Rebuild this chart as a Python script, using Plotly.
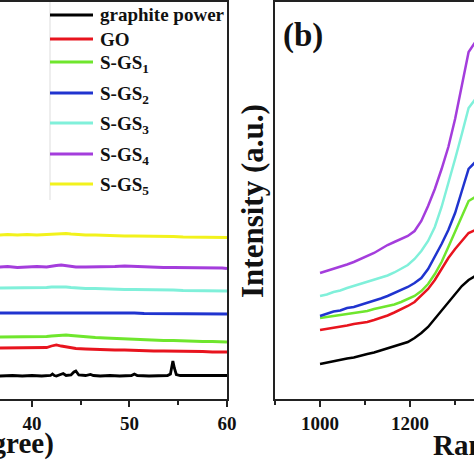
import plotly.graph_objects as go

# ---------------- data ----------------
series_names = ["graphite power", "GO", "S-GS<sub>1</sub>", "S-GS<sub>2</sub>",
                "S-GS<sub>3</sub>", "S-GS<sub>4</sub>", "S-GS<sub>5</sub>"]
series_colors = ["#000000", "#e8141e", "#6fe62d", "#2034cf", "#80f0da", "#a43ddc", "#f2f21c"]

# XRD (panel a), arbitrary offset intensities
xrd_x = [36.7, 37.5, 38.5, 39.5, 40.5, 41.5, 42.0, 42.5, 43.0, 43.5, 44.0, 44.5, 45.5, 46.5,
         47.5, 48.5, 49.5, 50.5, 51.5, 52.5, 53.5, 54.5, 55.5, 56.5, 57.5, 58.5, 59.5, 60.0]
xrd_go = [51, 51, 51.5, 51, 51, 51.5, 53, 54, 53, 52, 51, 50.5, 50, 49.5, 49.5, 49, 49, 48.5,
          48.5, 48, 48, 48, 47.5, 47.5, 47.5, 47, 47, 47]
xrd_sgs1 = [62, 62, 62.5, 62, 62, 62.5, 63, 63.5, 64, 64, 63.5, 63, 62, 61.5, 61, 60.5, 60, 59.5,
            59, 59, 58.5, 58.5, 58, 58, 57.5, 57.5, 57, 57]
xrd_sgs2 = [86, 86, 86.5, 86, 86, 86, 86.5, 86.5, 86.5, 86, 86, 86, 86, 86, 86, 86.5, 86, 86,
            85.5, 85.5, 85.5, 85.5, 85.5, 85, 85, 85, 85, 85]
xrd_sgs3 = [111, 111, 111.5, 111, 111, 111.5, 112, 112, 112.5, 112, 111.5, 111, 110.5, 110.5,
            110, 110, 109.5, 109.5, 109.5, 109, 109, 109, 108.5, 108.5, 108.5, 108, 108, 108]
xrd_sgs4 = [132, 132.5, 131.5, 132, 132.5, 132, 133, 133.5, 134, 133.5, 133, 132, 132, 132,
            132.5, 132.5, 133, 132.5, 132, 132, 131.5, 131.5, 131.5, 131, 131, 131, 131, 130.5]
xrd_sgs5 = [164, 164.5, 164, 164.5, 164, 164.5, 165, 165.5, 166, 165.5, 165, 164.5, 164, 164,
            163.5, 163.5, 163, 163, 163, 162.5, 162.5, 162.5, 162, 162, 162, 162, 161.5, 161.5]
xrd_graphite_x = [36.7, 38, 39, 40, 41, 41.9, 42.1, 42.3, 42.5, 42.9, 43.2, 43.5, 44.0, 44.3,
                  44.5, 44.8, 45.5, 46.0, 46.3, 47, 48, 49, 50.2, 50.5, 50.8, 52, 53, 53.9,
                  54.2, 54.35, 54.45, 54.6, 54.8, 55.2, 56, 57, 58, 59, 60]
xrd_graphite = [23, 23.5, 23, 23.5, 23, 23.5, 25, 23.5, 23, 24, 25.5, 23.5, 24, 27, 28, 24,
                23.5, 24.5, 23.5, 23, 23.5, 23, 23.5, 25, 23.5, 23, 23.5, 23.5, 25, 32, 38,
                31, 24.5, 23.5, 23.5, 23, 23.5, 23, 23.5]

# Raman (panel b)
raman_x = [1000, 1015, 1030, 1045, 1060, 1075, 1090, 1105, 1120, 1135, 1150, 1165, 1180, 1195,
           1210, 1225, 1240, 1255, 1270, 1285, 1300, 1315, 1330, 1345, 1360]
raman_graphite = [35, 36.5, 37.5, 39, 40.5, 41.5, 43.5, 45, 46.5, 48.5, 50.5, 53, 55, 57, 61,
                  66, 72, 80, 88, 96, 105, 113, 119, 123, 124]
raman_go = [69, 70, 71.5, 72.5, 73.5, 75, 76, 77, 79, 81, 83.5, 86.5, 89.5, 93, 97, 103, 110,
            119, 130, 141, 150, 158, 166, 169, 170]
raman_sgs1 = [81, 82, 83, 84, 85, 85.5, 86.5, 88, 90, 91.5, 92.5, 94.5, 97, 100, 103, 108, 115,
              125, 137, 152, 167, 183, 198, 202, 203]
raman_sgs2 = [83, 85, 87.5, 88.5, 91, 92, 94, 96, 98, 100.5, 103, 106, 109, 112, 116, 121, 130,
              142, 155, 169, 186, 208, 230, 237, 238]
raman_sgs3 = [103, 104.5, 107, 108.5, 111, 113, 115.5, 117, 119, 121, 123.5, 126.5, 130, 134,
              140, 148, 158, 172, 192, 215, 240, 265, 291, 300, 301]
raman_sgs4 = [126, 128, 130, 132, 134.5, 137, 140, 143, 146, 150, 154, 157, 160, 163, 168, 178,
              193, 210, 230, 252, 280, 315, 347, 357, 358]

xrd_series = [(xrd_graphite_x, xrd_graphite), (xrd_x, xrd_go), (xrd_x, xrd_sgs1),
              (xrd_x, xrd_sgs2), (xrd_x, xrd_sgs3), (xrd_x, xrd_sgs4), (xrd_x, xrd_sgs5)]
raman_series = [raman_graphite, raman_go, raman_sgs1, raman_sgs2, raman_sgs3, raman_sgs4]

# ---------------- figure ----------------
W = H = 474
def px(x): return x / W
def py(y): return 1 - y / H

FONT = "Liberation Serif, Times New Roman, serif"
fig = go.Figure()

for (xs, ys), name, col in zip(xrd_series, series_names, series_colors):
    fig.add_trace(go.Scatter(x=xs, y=ys, mode="lines", name=name, showlegend=False,
                             line=dict(color=col, width=2.8), xaxis="x", yaxis="y"))
for ys, name, col in zip(raman_series, series_names, series_colors):
    fig.add_trace(go.Scatter(x=raman_x, y=ys, mode="lines", name=name, showlegend=False,
                             line=dict(color=col, width=2.5), xaxis="x2", yaxis="y2"))

axis_line = dict(showline=True, linecolor="#222", linewidth=2, showgrid=False, zeroline=False,
                 automargin=False)
tickfont = dict(family=FONT, size=19, color="#111", weight="bold")

fig.update_layout(
    width=W, height=H, autosize=False,
    margin=dict(l=0, r=0, t=0, b=0, pad=0, autoexpand=False),
    paper_bgcolor="white", plot_bgcolor="white", showlegend=False,
    xaxis=dict(domain=[0, px(227)], range=[36.72, 60], tickvals=[40, 50, 60],
               ticks="outside", ticklen=6, tickwidth=2, tickcolor="#222", mirror=True,
               minor=dict(tickvals=[45, 55], ticks="outside", ticklen=4, tickwidth=2, tickcolor="#222"),
               tickfont=tickfont, anchor="y", **axis_line),
    yaxis=dict(domain=[py(399), py(2)], range=[0, 397], side="right", showticklabels=False,
               ticks="", anchor="x", **axis_line),
    xaxis2=dict(domain=[px(275), 1], range=[900, 1342], tickvals=[1000, 1200],
                ticks="outside", ticklen=6, tickwidth=2, tickcolor="#222", mirror=True,
                minor=dict(tickvals=[900, 1100, 1300], ticks="outside", ticklen=4, tickwidth=2, tickcolor="#222"),
                tickfont=tickfont, anchor="y2", **axis_line),
    yaxis2=dict(domain=[py(399), py(2)], range=[0, 397], showticklabels=False, ticks="",
                anchor="x2", **axis_line),
)

# legend box edge and manual legend (panel a)
fig.add_shape(type="line", xref="paper", yref="paper", x0=px(50), x1=px(50), y0=py(200), y1=py(2),
              line=dict(color="#dddddd", width=1))
legend_y = [15, 39, 62, 93, 123, 154, 184]
for name, col, ly in zip(series_names, series_colors, legend_y):
    fig.add_shape(type="line", xref="paper", yref="paper", x0=px(50), x1=px(93), y0=py(ly), y1=py(ly),
                  line=dict(color=col, width=3))
    sub = "<sub>" in name
    fig.add_annotation(xref="paper", yref="paper", x=px(98), y=py(ly + (2 if sub else 0)),
                       xanchor="left", yanchor="middle", text=name, showarrow=False,
                       font=dict(family=FONT, size=19, color="#111", weight="bold"))

# axis titles and panel label
title_font = dict(family=FONT, size=29, color="#111", weight="bold")
fig.add_annotation(xref="paper", yref="paper", x=px(56), y=py(443), xanchor="right", yanchor="middle",
                   text="2θ (degree)", showarrow=False, font=title_font)
fig.add_annotation(xref="paper", yref="paper", x=px(431), y=py(443), xanchor="left", yanchor="middle",
                   text="Raman shift (cm<sup>-1</sup>)", showarrow=False, font=title_font)
fig.add_annotation(xref="paper", yref="paper", x=px(252), y=py(201), xanchor="center", yanchor="middle",
                   text="Intensity (a.u.)", textangle=-90, showarrow=False,
                   font=dict(family=FONT, size=31, color="#111", weight="bold"))
fig.add_annotation(xref="paper", yref="paper", x=px(281), y=py(36), xanchor="left", yanchor="middle",
                   text="(b)", showarrow=False,
                   font=dict(family=FONT, size=33, color="#111", weight="bold"))

fig.write_html("out.html")
